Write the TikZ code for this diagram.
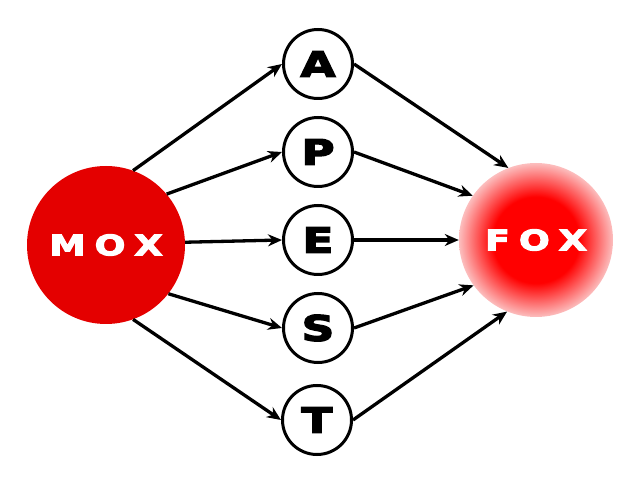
\documentclass[tikz,border=0pt]{standalone}
\usepackage{fontspec}
\usetikzlibrary{arrows.meta}
\newfontfamily\heavy[FakeStretch=1.3,FakeBold=4]{DejaVu Sans Bold}
\definecolor{moxred}{RGB}{228,0,0}
\definecolor{foxedge}{RGB}{252,190,190}
\pgfdeclareradialshading{foxshade}{\pgfpoint{0bp}{0bp}}{color(0bp)=(red); color(14bp)=(red); color(25bp)=(foxedge); color(50bp)=(foxedge)}
\tikzset{
  letter/.style={circle, draw=black, line width=3pt, fill=white, minimum size=69pt, inner sep=0pt, font=\heavy\fontsize{35}{35}\selectfont},
  conn/.style={line width=3.3pt, -{Stealth[length=14pt,width=12pt]}},
  bigtext/.style={text=white, font=\heavy\fontsize{28}{28}\selectfont}
}
\begin{document}
\begin{tikzpicture}[x=1pt,y=-1pt]
\useasboundingbox (0,0) rectangle (638,478);
\node[circle, fill=moxred, minimum size=158pt, inner sep=0pt, bigtext] (mox) at (106,245) {M\hspace{9pt}O\hspace{9pt}X};
\node[circle, shading=foxshade, minimum size=154pt, inner sep=0pt, bigtext] (fox) at (536,240) {F\hspace{9pt}O\hspace{9pt}X};
\node[letter] (A) at (318,64) {A};
\node[letter] (P) at (318,152) {P};
\node[letter] (E) at (318,240) {E};
\node[letter] (S) at (318,328) {S};
\node[letter] (T) at (317,420) {T};
\draw[conn] (mox.2) -- (E.west);
\draw[conn] (mox.70) -- (A.west);
\draw[conn] (mox.40) -- (P.west);
\draw[conn] (mox.-38) -- (S.west);
\draw[conn] (mox.-70) -- (T.west);
\draw[conn] (A.east) -- (fox.111);
\draw[conn] (P.east) -- (fox.145);
\draw[conn] (E.east) -- (fox.west);
\draw[conn] (S.east) -- (fox.-144);
\draw[conn] (T.east) -- (fox.-112);
\end{tikzpicture}
\end{document}
